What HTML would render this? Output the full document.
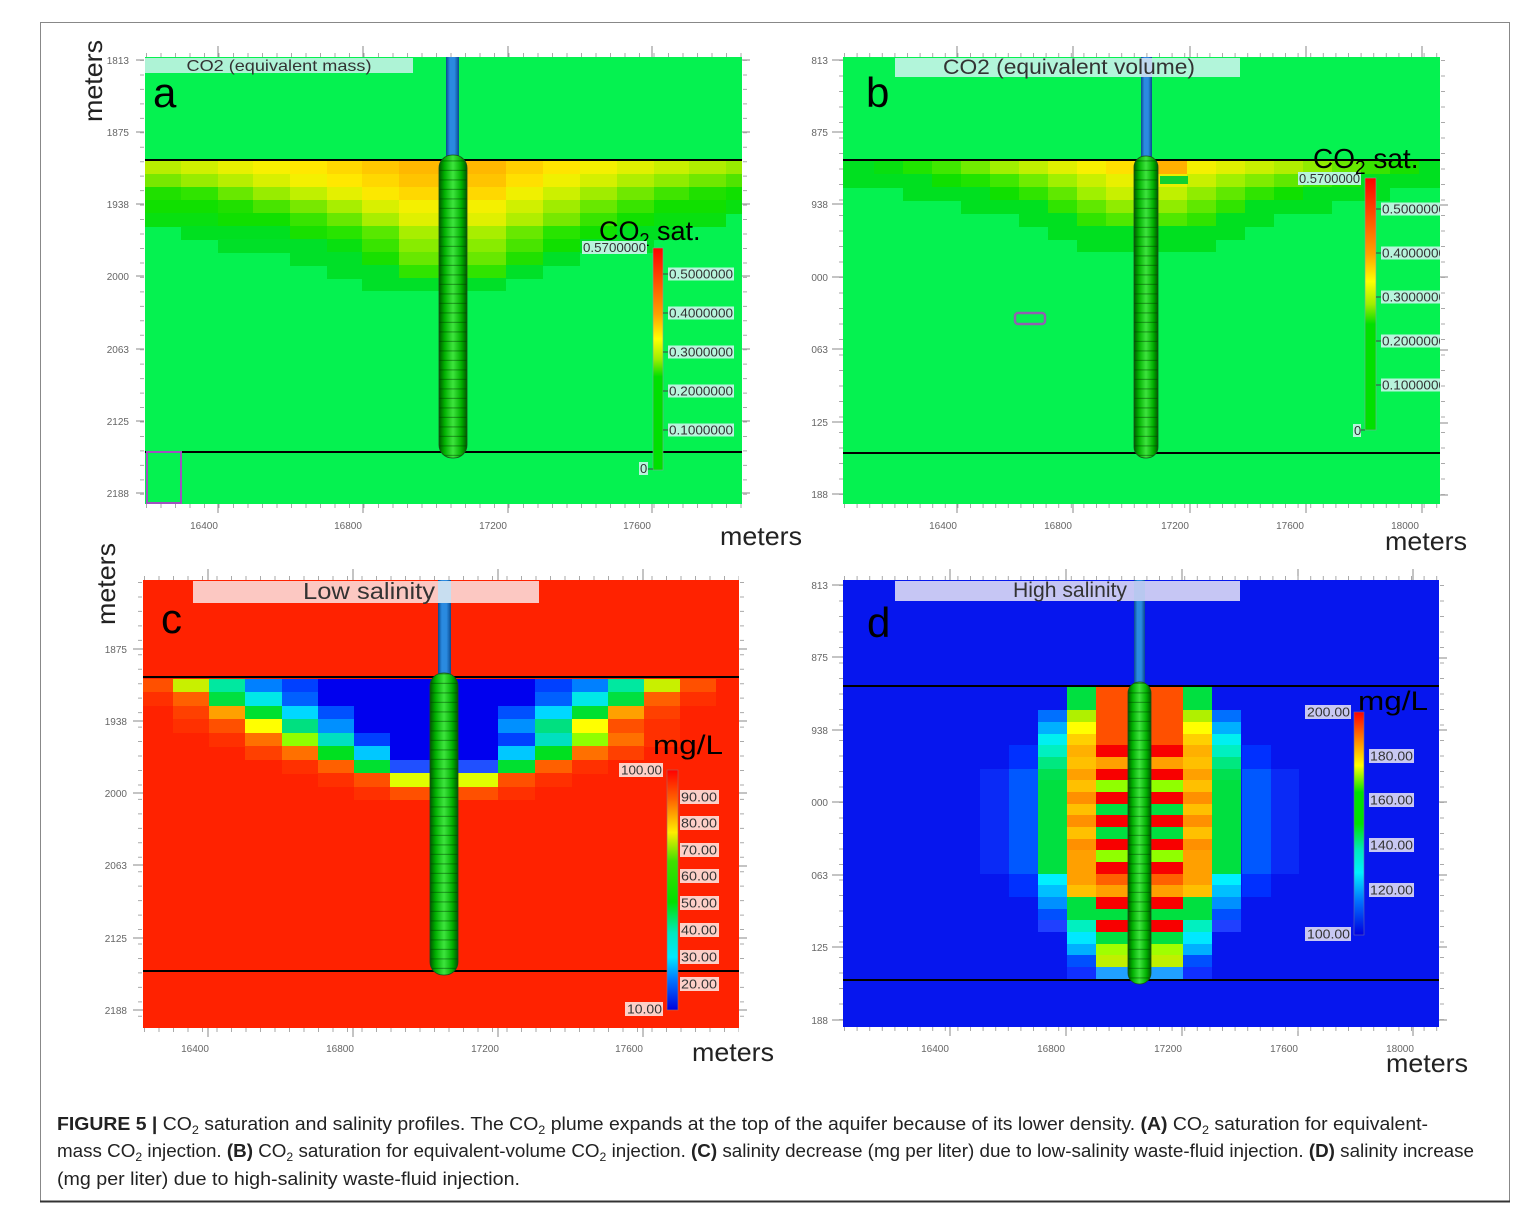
<!DOCTYPE html>
<html><head><meta charset="utf-8"><title>Figure 5</title>
<style>html,body{margin:0;padding:0;background:#fff}svg{display:block}</style></head>
<body>
<svg width="1536" height="1223" viewBox="0 0 1536 1223" font-family="'Liberation Sans', sans-serif">
<defs>
<linearGradient id="wg" x1="0" x2="1" y1="0" y2="0">
<stop offset="0" stop-color="#005800"/><stop offset="0.2" stop-color="#00b000"/><stop offset="0.5" stop-color="#3ee43e"/><stop offset="0.8" stop-color="#00b000"/><stop offset="1" stop-color="#005800"/>
</linearGradient>
<linearGradient id="pg" x1="0" x2="1" y1="0" y2="0">
<stop offset="0" stop-color="#0a4a90"/><stop offset="0.3" stop-color="#2a8ae0"/><stop offset="0.65" stop-color="#2a8ae0"/><stop offset="1" stop-color="#0a4a90"/>
</linearGradient>
<pattern id="sp" width="40" height="9.5" patternUnits="userSpaceOnUse"><rect y="8.3" width="40" height="1.2" fill="#003800" opacity="0.4"/></pattern>
<linearGradient id="cbA" x1="0" y1="0" x2="0" y2="1">
<stop offset="0" stop-color="#ff0000"/><stop offset="0.15" stop-color="#ff5000"/><stop offset="0.3" stop-color="#ffa000"/><stop offset="0.41" stop-color="#ffff00"/><stop offset="0.5" stop-color="#a0ee00"/><stop offset="0.58" stop-color="#00e000"/><stop offset="1" stop-color="#00e000"/>
</linearGradient>
<linearGradient id="cbC" x1="0" y1="0" x2="0" y2="1">
<stop offset="0" stop-color="#ff0000"/><stop offset="0.12" stop-color="#ff6000"/><stop offset="0.26" stop-color="#ffee00"/><stop offset="0.38" stop-color="#40e000"/><stop offset="0.55" stop-color="#00e000"/><stop offset="0.68" stop-color="#00e8c0"/><stop offset="0.78" stop-color="#00e8ff"/><stop offset="0.88" stop-color="#0070ff"/><stop offset="1" stop-color="#0000e0"/>
</linearGradient>
<linearGradient id="cbD" x1="0" y1="0" x2="0" y2="1">
<stop offset="0" stop-color="#ff0000"/><stop offset="0.12" stop-color="#ff8000"/><stop offset="0.24" stop-color="#ffff00"/><stop offset="0.36" stop-color="#00e000"/><stop offset="0.5" stop-color="#00e000"/><stop offset="0.62" stop-color="#00e8c0"/><stop offset="0.72" stop-color="#00f0ff"/><stop offset="0.85" stop-color="#0070ff"/><stop offset="1" stop-color="#0000e0"/>
</linearGradient>
<clipPath id="clipB"><rect x="843" y="57" width="597" height="447"/></clipPath>
<g id="dm">
<rect y="687" width="29" height="23" fill="#00e040"/><rect y="710" width="29" height="12" fill="#b0f000"/><rect y="722" width="29" height="12" fill="#ffff00"/><rect y="734" width="29" height="11" fill="#ffd000"/><rect y="745" width="29" height="12" fill="#ffb000"/><rect y="757" width="29" height="12" fill="#ffc000"/><rect y="769" width="29" height="11" fill="#ffa000"/><rect y="780" width="29" height="12" fill="#ffc000"/><rect y="792" width="29" height="12" fill="#ff9000"/><rect y="804" width="29" height="11" fill="#ffc000"/><rect y="815" width="29" height="12" fill="#ff9000"/><rect y="827" width="29" height="12" fill="#ffc000"/><rect y="839" width="29" height="11" fill="#ff9000"/><rect y="850" width="29" height="35" fill="#ffa000"/><rect y="885" width="29" height="12" fill="#ffc000"/><rect y="897" width="29" height="23" fill="#00e040"/><rect y="920" width="29" height="12" fill="#00f0c0"/><rect y="932" width="29" height="12" fill="#00e8ff"/><rect y="944" width="29" height="11" fill="#00b0ff"/><rect y="955" width="29" height="12" fill="#0050ff"/><rect y="967" width="29" height="12" fill="#1030ff"/>
</g>
<g id="do">
<rect y="710" width="29" height="12" fill="#0070ff"/><rect y="722" width="29" height="12" fill="#00b0ff"/><rect y="734" width="29" height="11" fill="#00f0f0"/><rect y="745" width="29" height="12" fill="#00f0c0"/><rect y="757" width="29" height="12" fill="#00e880"/><rect y="769" width="29" height="11" fill="#00e050"/><rect y="780" width="29" height="94" fill="#00e040"/><rect y="874" width="29" height="11" fill="#00f0ff"/><rect y="885" width="29" height="12" fill="#00c0ff"/><rect y="897" width="29" height="12" fill="#0090ff"/><rect y="909" width="29" height="11" fill="#0050ff"/><rect y="920" width="29" height="12" fill="#2040ff"/>
</g>
<g id="do2">
<rect y="745" width="29" height="24" fill="#0030ff"/><rect y="769" width="29" height="105" fill="#0058ff"/><rect y="874" width="29" height="23" fill="#0030ff"/>
</g>
<g id="do3"><rect y="769" width="29" height="105" fill="#0a2af6"/></g>
</defs>

<rect width="1536" height="1223" fill="#fff"/>
<rect x="40.5" y="22.5" width="1469" height="1179" fill="none" stroke="#888" stroke-width="1"/>
<line x1="40" y1="1201.5" x2="1510" y2="1201.5" stroke="#333" stroke-width="2"/>

<!-- ================= PANEL A ================= -->
<g shape-rendering="crispEdges">
<rect x="145" y="57" width="597" height="447" fill="#05f250"/>
<rect x="145" y="161" width="36" height="14" fill="#b8ee00"/><rect x="181" y="161" width="37" height="14" fill="#d0f000"/><rect x="218" y="161" width="35" height="14" fill="#e8f000"/><rect x="253" y="161" width="37" height="14" fill="#f8f000"/><rect x="290" y="161" width="37" height="14" fill="#ffe800"/><rect x="327" y="161" width="35" height="14" fill="#ffd800"/><rect x="362" y="161" width="37" height="14" fill="#ffc800"/><rect x="399" y="161" width="107" height="14" fill="#ffb800"/><rect x="506" y="161" width="37" height="14" fill="#ffd000"/><rect x="543" y="161" width="37" height="14" fill="#ffe400"/><rect x="580" y="161" width="37" height="14" fill="#f4f000"/><rect x="617" y="161" width="37" height="14" fill="#e0f000"/><rect x="654" y="161" width="35" height="14" fill="#c8f000"/><rect x="689" y="161" width="37" height="14" fill="#b0ee00"/><rect x="726" y="161" width="16" height="14" fill="#98ec00"/>
<rect x="145" y="174" width="36" height="14" fill="#78e800"/><rect x="181" y="174" width="37" height="14" fill="#98ec00"/><rect x="218" y="174" width="35" height="14" fill="#b8ee00"/><rect x="253" y="174" width="37" height="14" fill="#d8f000"/><rect x="290" y="174" width="37" height="14" fill="#f4f000"/><rect x="327" y="174" width="35" height="14" fill="#ffe800"/><rect x="362" y="174" width="37" height="14" fill="#ffd800"/><rect x="399" y="174" width="107" height="14" fill="#ffc400"/><rect x="506" y="174" width="37" height="14" fill="#ffe000"/><rect x="543" y="174" width="37" height="14" fill="#f0f000"/><rect x="580" y="174" width="37" height="14" fill="#d4f000"/><rect x="617" y="174" width="37" height="14" fill="#b0ee00"/><rect x="654" y="174" width="35" height="14" fill="#90ec00"/><rect x="689" y="174" width="37" height="14" fill="#70e800"/><rect x="726" y="174" width="16" height="14" fill="#50e400"/>
<rect x="145" y="187" width="36" height="14" fill="#20e000"/><rect x="181" y="187" width="37" height="14" fill="#30e400"/><rect x="218" y="187" width="35" height="14" fill="#68e800"/><rect x="253" y="187" width="37" height="14" fill="#98ec00"/><rect x="290" y="187" width="37" height="14" fill="#c0f000"/><rect x="327" y="187" width="35" height="14" fill="#e4f000"/><rect x="362" y="187" width="37" height="14" fill="#fce800"/><rect x="399" y="187" width="107" height="14" fill="#ffd800"/><rect x="506" y="187" width="37" height="14" fill="#f0f000"/><rect x="543" y="187" width="37" height="14" fill="#ccf000"/><rect x="580" y="187" width="37" height="14" fill="#a0ec00"/><rect x="617" y="187" width="37" height="14" fill="#70e800"/><rect x="654" y="187" width="35" height="14" fill="#40e400"/><rect x="689" y="187" width="37" height="14" fill="#20e000"/><rect x="726" y="187" width="16" height="14" fill="#10e000"/>
<rect x="145" y="200" width="73" height="14" fill="#10e000"/><rect x="218" y="200" width="35" height="14" fill="#20e000"/><rect x="253" y="200" width="37" height="14" fill="#48e400"/><rect x="290" y="200" width="37" height="14" fill="#78e800"/><rect x="327" y="200" width="35" height="14" fill="#a8ee00"/><rect x="362" y="200" width="37" height="14" fill="#d8f000"/><rect x="399" y="200" width="107" height="14" fill="#f4f000"/><rect x="506" y="200" width="37" height="14" fill="#d0f000"/><rect x="543" y="200" width="37" height="14" fill="#a0ec00"/><rect x="580" y="200" width="37" height="14" fill="#68e800"/><rect x="617" y="200" width="37" height="14" fill="#38e400"/><rect x="654" y="200" width="72" height="14" fill="#10e000"/><rect x="726" y="200" width="16" height="14" fill="#08e010"/>
<rect x="145" y="213" width="73" height="14" fill="#08e010"/><rect x="218" y="213" width="72" height="14" fill="#10e000"/><rect x="290" y="213" width="37" height="14" fill="#38e400"/><rect x="327" y="213" width="35" height="14" fill="#68e800"/><rect x="362" y="213" width="37" height="14" fill="#a8ee00"/><rect x="399" y="213" width="107" height="14" fill="#e0f000"/><rect x="506" y="213" width="37" height="14" fill="#b0ee00"/><rect x="543" y="213" width="37" height="14" fill="#78e800"/><rect x="580" y="213" width="37" height="14" fill="#38e400"/><rect x="617" y="213" width="37" height="14" fill="#10e000"/><rect x="654" y="213" width="72" height="14" fill="#08e010"/>
<rect x="181" y="226" width="109" height="14" fill="#00e020"/><rect x="290" y="226" width="37" height="14" fill="#18e000"/><rect x="327" y="226" width="35" height="14" fill="#28e400"/><rect x="362" y="226" width="37" height="14" fill="#58e800"/><rect x="399" y="226" width="107" height="14" fill="#a8ee00"/><rect x="506" y="226" width="37" height="14" fill="#68e800"/><rect x="543" y="226" width="37" height="14" fill="#28e400"/><rect x="580" y="226" width="37" height="14" fill="#10e000"/><rect x="617" y="226" width="72" height="14" fill="#00e020"/>
<rect x="218" y="239" width="109" height="14" fill="#00e028"/><rect x="327" y="239" width="35" height="14" fill="#08e010"/><rect x="362" y="239" width="37" height="14" fill="#38e400"/><rect x="399" y="239" width="107" height="14" fill="#88ec00"/><rect x="506" y="239" width="37" height="14" fill="#48e400"/><rect x="543" y="239" width="37" height="14" fill="#10e000"/><rect x="580" y="239" width="74" height="14" fill="#00e028"/>
<rect x="290" y="252" width="72" height="14" fill="#00e028"/><rect x="362" y="252" width="37" height="14" fill="#18e000"/><rect x="399" y="252" width="107" height="14" fill="#68e800"/><rect x="506" y="252" width="37" height="14" fill="#20e000"/><rect x="543" y="252" width="37" height="14" fill="#00e028"/>
<rect x="327" y="265" width="72" height="14" fill="#00e028"/><rect x="399" y="265" width="107" height="14" fill="#30e400"/><rect x="506" y="265" width="37" height="14" fill="#00e028"/>
<rect x="362" y="278" width="144" height="13" fill="#00e028"/>
</g>
<rect x="145" y="58" width="268" height="15" fill="#aef3d6"/>
<text x="279" y="71" font-size="16" fill="#333" text-anchor="middle" textLength="185" lengthAdjust="spacingAndGlyphs">CO2 (equivalent mass)</text>
<rect x="446" y="57" width="13" height="105" fill="url(#pg)"/>
<line x1="145" y1="160" x2="742" y2="160" stroke="#000" stroke-width="2"/>
<line x1="145" y1="452" x2="742" y2="452" stroke="#000" stroke-width="2"/>
<rect x="147" y="452" width="34" height="51" fill="none" stroke="#a050c0" stroke-width="2"/>
<rect x="439" y="155" width="28" height="303" rx="13" fill="url(#wg)"/>
<rect x="439" y="155" width="28" height="303" rx="13" fill="url(#sp)" stroke="#1c4c1c" stroke-width="0.8"/>
<text x="153" y="107" font-size="42" fill="#000">a</text>
<text x="599" y="240" font-size="27" fill="#000">CO<tspan font-size="18" dy="6">2</tspan><tspan dy="-6"> sat.</tspan></text>
<rect x="653" y="248" width="10" height="222" fill="url(#cbA)" stroke="#7a9" stroke-width="0.6"/>
<g font-size="13" fill="#333">
<rect x="582" y="241" width="65" height="13" fill="#b8f4dc"/><text x="646" y="252" text-anchor="end" textLength="63" lengthAdjust="spacingAndGlyphs">0.5700000</text>
<rect x="668" y="267.5" width="66" height="13" fill="#b8f4dc"/><text x="669" y="278.5" textLength="64" lengthAdjust="spacingAndGlyphs">0.5000000</text>
<rect x="668" y="306.5" width="66" height="13" fill="#b8f4dc"/><text x="669" y="317.5" textLength="64" lengthAdjust="spacingAndGlyphs">0.4000000</text>
<rect x="668" y="345.5" width="66" height="13" fill="#b8f4dc"/><text x="669" y="356.5" textLength="64" lengthAdjust="spacingAndGlyphs">0.3000000</text>
<rect x="668" y="384.5" width="66" height="13" fill="#b8f4dc"/><text x="669" y="395.5" textLength="64" lengthAdjust="spacingAndGlyphs">0.2000000</text>
<rect x="668" y="423.5" width="66" height="13" fill="#b8f4dc"/><text x="669" y="434.5" textLength="64" lengthAdjust="spacingAndGlyphs">0.1000000</text>
<rect x="639" y="462" width="9" height="13" fill="#b8f4dc"/><text x="640" y="473">0</text>
</g>
<path d="M663 274H668M663 313H668M663 352H668M663 391H668M663 430H668M648 469H653" stroke="#444" stroke-width="1"/>
<g stroke="#888" stroke-width="1" fill="none">
<path d="M136 60H144M136 132H144M136 204H144M136 276H144M136 349H144M136 421H144M136 493H144"/>
<path d="M742 60H750M742 132H750M742 204H750M742 276H750M742 349H750M742 421H750M742 493H750"/>
<path d="M218 46V57M363 46V57M508 46V57M652 46V57"/>
<path d="M218 504V513M363 504V513M508 504V513M652 504V513"/>
</g>
<g stroke="#aaa" stroke-width="4" stroke-dasharray="1 13.46">
<line x1="142" y1="60" x2="142" y2="504"/><line x1="745" y1="60" x2="745" y2="504"/>
<line x1="146" y1="55" x2="742" y2="55" stroke-dasharray="1 13.5"/><line x1="146" y1="506" x2="742" y2="506" stroke-dasharray="1 13.5"/>
</g>
<g font-size="10" fill="#666">
<g text-anchor="end"><text x="129" y="64">1813</text><text x="129" y="136">1875</text><text x="129" y="208">1938</text><text x="129" y="280">2000</text><text x="129" y="353">2063</text><text x="129" y="425">2125</text><text x="129" y="497">2188</text></g>
<g text-anchor="middle"><text x="204" y="529">16400</text><text x="348" y="529">16800</text><text x="493" y="529">17200</text><text x="637" y="529">17600</text></g>
</g>
<text transform="translate(102,81) rotate(-90)" font-size="26" fill="#222" text-anchor="middle" textLength="82" lengthAdjust="spacingAndGlyphs">meters</text>
<text x="761" y="545" font-size="26" fill="#222" text-anchor="middle" textLength="82" lengthAdjust="spacingAndGlyphs">meters</text>

<!-- ================= PANEL B ================= -->
<g shape-rendering="crispEdges">
<rect x="843" y="57" width="597" height="447" fill="#05f250"/>
<rect x="843" y="161" width="31" height="14" fill="#00e020"/><rect x="874" y="161" width="29" height="14" fill="#08e010"/><rect x="903" y="161" width="29" height="14" fill="#20e400"/><rect x="932" y="161" width="29" height="14" fill="#40e800"/><rect x="961" y="161" width="29" height="14" fill="#70ec00"/><rect x="990" y="161" width="29" height="14" fill="#a0f000"/><rect x="1019" y="161" width="29" height="14" fill="#c0f000"/><rect x="1048" y="161" width="29" height="14" fill="#e0f000"/><rect x="1077" y="161" width="29" height="14" fill="#f8f000"/><rect x="1106" y="161" width="41" height="14" fill="#ffe000"/><rect x="1147" y="161" width="40" height="14" fill="#ffb000"/><rect x="1187" y="161" width="29" height="14" fill="#f4f000"/><rect x="1216" y="161" width="29" height="14" fill="#e0f000"/><rect x="1245" y="161" width="29" height="14" fill="#c8f000"/><rect x="1274" y="161" width="29" height="14" fill="#b0ee00"/><rect x="1303" y="161" width="29" height="14" fill="#90ec00"/><rect x="1332" y="161" width="29" height="14" fill="#68e800"/><rect x="1361" y="161" width="29" height="14" fill="#38e400"/><rect x="1390" y="161" width="29" height="14" fill="#18e000"/><rect x="1419" y="161" width="21" height="14" fill="#00e020"/>
<rect x="843" y="174" width="89" height="14" fill="#00e020"/><rect x="932" y="174" width="29" height="14" fill="#10e000"/><rect x="961" y="174" width="29" height="14" fill="#20e400"/><rect x="990" y="174" width="29" height="14" fill="#40e800"/><rect x="1019" y="174" width="29" height="14" fill="#70ec00"/><rect x="1048" y="174" width="29" height="14" fill="#a0f000"/><rect x="1077" y="174" width="29" height="14" fill="#c8f000"/><rect x="1106" y="174" width="81" height="14" fill="#e8f000"/><rect x="1187" y="174" width="29" height="14" fill="#c8f000"/><rect x="1216" y="174" width="29" height="14" fill="#a0f000"/><rect x="1245" y="174" width="29" height="14" fill="#80ec00"/><rect x="1274" y="174" width="29" height="14" fill="#60e800"/><rect x="1303" y="174" width="29" height="14" fill="#40e800"/><rect x="1332" y="174" width="29" height="14" fill="#20e400"/><rect x="1361" y="174" width="79" height="14" fill="#00e020"/>
<rect x="1160" y="176" width="28" height="8" fill="#10d030"/>
<rect x="903" y="187" width="87" height="14" fill="#00e020"/><rect x="990" y="187" width="29" height="14" fill="#10e000"/><rect x="1019" y="187" width="29" height="14" fill="#30e400"/><rect x="1048" y="187" width="29" height="14" fill="#60e800"/><rect x="1077" y="187" width="29" height="14" fill="#a0f000"/><rect x="1106" y="187" width="41" height="14" fill="#c8f000"/><rect x="1147" y="187" width="40" height="14" fill="#c0f000"/><rect x="1187" y="187" width="29" height="14" fill="#90ec00"/><rect x="1216" y="187" width="29" height="14" fill="#60e800"/><rect x="1245" y="187" width="29" height="14" fill="#30e400"/><rect x="1274" y="187" width="29" height="14" fill="#10e000"/><rect x="1303" y="187" width="87" height="14" fill="#00e020"/>
<rect x="961" y="200" width="87" height="14" fill="#00e020"/><rect x="1048" y="200" width="29" height="14" fill="#30e400"/><rect x="1077" y="200" width="29" height="14" fill="#60e800"/><rect x="1106" y="200" width="81" height="14" fill="#90ec00"/><rect x="1187" y="200" width="29" height="14" fill="#60e800"/><rect x="1216" y="200" width="29" height="14" fill="#30e400"/><rect x="1245" y="200" width="87" height="14" fill="#00e020"/>
<rect x="1019" y="213" width="58" height="14" fill="#00e020"/><rect x="1077" y="213" width="29" height="14" fill="#30e400"/><rect x="1106" y="213" width="81" height="14" fill="#50e800"/><rect x="1187" y="213" width="29" height="14" fill="#30e400"/><rect x="1216" y="213" width="58" height="14" fill="#00e020"/>
<rect x="1048" y="226" width="197" height="14" fill="#00e020"/>
<rect x="1077" y="239" width="139" height="13" fill="#00e020"/>
</g>
<rect x="895" y="58" width="345" height="19" fill="#b2f5da"/>
<rect x="1141" y="57" width="11" height="105" fill="url(#pg)"/>
<rect x="1141" y="58" width="11" height="19" fill="#c0d8f0"/>
<text x="1069" y="74" font-size="21" fill="#333" text-anchor="middle" textLength="252" lengthAdjust="spacingAndGlyphs">CO2 (equivalent volume)</text>
<line x1="843" y1="160" x2="1440" y2="160" stroke="#000" stroke-width="2"/>
<line x1="843" y1="453" x2="1440" y2="453" stroke="#000" stroke-width="2"/>
<rect x="1015" y="313" width="30" height="11" rx="3" fill="none" stroke="#9060b0" stroke-width="2.5"/>
<rect x="1134" y="156" width="24" height="302" rx="11" fill="url(#wg)"/>
<rect x="1134" y="156" width="24" height="302" rx="11" fill="url(#sp)" stroke="#1c4c1c" stroke-width="0.8"/>
<text x="866" y="107" font-size="42" fill="#000">b</text>
<rect x="1365" y="178" width="11" height="252" fill="url(#cbA)" stroke="#7a9" stroke-width="0.6"/>
<g font-size="13" fill="#333">
<rect x="1298" y="172" width="63" height="13" fill="#b8f4dc"/><text x="1360" y="183" text-anchor="end" textLength="61" lengthAdjust="spacingAndGlyphs">0.5700000</text>
<g clip-path="url(#clipB)">
<rect x="1381" y="202.5" width="70" height="13" fill="#b8f4dc"/><text x="1382" y="213.5" textLength="64" lengthAdjust="spacingAndGlyphs">0.5000000</text>
<rect x="1381" y="246.5" width="70" height="13" fill="#b8f4dc"/><text x="1382" y="257.5" textLength="64" lengthAdjust="spacingAndGlyphs">0.4000000</text>
<rect x="1381" y="290.5" width="70" height="13" fill="#b8f4dc"/><text x="1382" y="301.5" textLength="64" lengthAdjust="spacingAndGlyphs">0.3000000</text>
<rect x="1381" y="334.5" width="70" height="13" fill="#b8f4dc"/><text x="1382" y="345.5" textLength="64" lengthAdjust="spacingAndGlyphs">0.2000000</text>
<rect x="1381" y="378.5" width="70" height="13" fill="#b8f4dc"/><text x="1382" y="389.5" textLength="64" lengthAdjust="spacingAndGlyphs">0.1000000</text>
</g>
<rect x="1353" y="424" width="8" height="13" fill="#b8f4dc"/><text x="1354" y="435">0</text>
</g>
<path d="M1376 209H1381M1376 253H1381M1376 297H1381M1376 341H1381M1376 385H1381M1361 430H1365" stroke="#444" stroke-width="1"/>
<text x="1313" y="168" font-size="28" fill="#000">CO<tspan font-size="19" dy="6">2</tspan><tspan dy="-6"> sat.</tspan></text>
<g stroke="#888" stroke-width="1" fill="none">
<path d="M832 60H843M832 132H843M832 204H843M832 277H843M832 349H843M832 422H843M832 494H843"/>
<path d="M1440 205H1448M1440 277H1448M1440 350H1448M1440 423H1448M1440 495H1448"/>
<path d="M957 46V57M1073 46V57M1190 46V57M1306 46V57M1422 46V57"/>
<path d="M957 504V513M1073 504V513M1190 504V513M1306 504V513M1422 504V513"/>
</g>
<g stroke="#aaa" stroke-width="4" stroke-dasharray="1 14.5">
<line x1="841" y1="60" x2="841" y2="504"/><line x1="1443" y1="60" x2="1443" y2="504"/>
<line x1="844" y1="55" x2="1440" y2="55" stroke-dasharray="1 11.6"/><line x1="844" y1="506" x2="1440" y2="506" stroke-dasharray="1 11.6"/>
</g>
<g font-size="10" fill="#666">
<g text-anchor="end"><text x="828" y="64">813</text><text x="828" y="136">875</text><text x="828" y="208">938</text><text x="828" y="281">000</text><text x="828" y="353">063</text><text x="828" y="426">125</text><text x="828" y="498">188</text></g>
<g text-anchor="middle"><text x="943" y="529">16400</text><text x="1058" y="529">16800</text><text x="1175" y="529">17200</text><text x="1290" y="529">17600</text><text x="1405" y="529">18000</text></g>
</g>
<text x="1426" y="550" font-size="26" fill="#222" text-anchor="middle" textLength="82" lengthAdjust="spacingAndGlyphs">meters</text>

<!-- ================= PANEL C ================= -->
<g shape-rendering="crispEdges">
<rect x="143" y="580" width="596" height="448" fill="#ff2200"/>
<rect x="143" y="679" width="30" height="14" fill="#ff5000"/><rect x="173" y="679" width="36" height="14" fill="#c8f000"/><rect x="209" y="679" width="36" height="14" fill="#00e8a0"/><rect x="245" y="679" width="37" height="14" fill="#0080ff"/><rect x="282" y="679" width="36" height="14" fill="#0040ff"/><rect x="318" y="679" width="217" height="14" fill="#0000ee"/><rect x="535" y="679" width="37" height="14" fill="#0040ff"/><rect x="572" y="679" width="36" height="14" fill="#0080ff"/><rect x="608" y="679" width="36" height="14" fill="#00e8a0"/><rect x="644" y="679" width="36" height="14" fill="#c8f000"/><rect x="680" y="679" width="36" height="14" fill="#ff5000"/>
<rect x="143" y="692" width="30" height="14" fill="#ff3000"/><rect x="173" y="692" width="36" height="14" fill="#ff6000"/><rect x="209" y="692" width="36" height="14" fill="#00e040"/><rect x="245" y="692" width="37" height="14" fill="#00e8e8"/><rect x="282" y="692" width="36" height="14" fill="#0060ff"/><rect x="318" y="692" width="217" height="14" fill="#0000ee"/><rect x="535" y="692" width="37" height="14" fill="#0060ff"/><rect x="572" y="692" width="36" height="14" fill="#00e8e8"/><rect x="608" y="692" width="36" height="14" fill="#00e040"/><rect x="644" y="692" width="36" height="14" fill="#ff6000"/><rect x="680" y="692" width="36" height="14" fill="#ff3000"/>
<rect x="173" y="706" width="36" height="14" fill="#ff4000"/><rect x="209" y="706" width="36" height="14" fill="#ffa000"/><rect x="245" y="706" width="37" height="14" fill="#00e030"/><rect x="282" y="706" width="36" height="14" fill="#00d8ff"/><rect x="318" y="706" width="36" height="14" fill="#0050ff"/><rect x="354" y="706" width="144" height="14" fill="#0000ee"/><rect x="498" y="706" width="37" height="14" fill="#0050ff"/><rect x="535" y="706" width="37" height="14" fill="#00d8ff"/><rect x="572" y="706" width="36" height="14" fill="#00e030"/><rect x="608" y="706" width="36" height="14" fill="#ffa000"/><rect x="644" y="706" width="36" height="14" fill="#ff4000"/>
<rect x="173" y="719" width="36" height="14" fill="#ff3000"/><rect x="209" y="719" width="36" height="14" fill="#ff5000"/><rect x="245" y="719" width="37" height="14" fill="#ffff00"/><rect x="282" y="719" width="36" height="14" fill="#00e080"/><rect x="318" y="719" width="36" height="14" fill="#0090ff"/><rect x="354" y="719" width="144" height="14" fill="#0000ee"/><rect x="498" y="719" width="37" height="14" fill="#0090ff"/><rect x="535" y="719" width="37" height="14" fill="#00e080"/><rect x="572" y="719" width="36" height="14" fill="#ffff00"/><rect x="608" y="719" width="36" height="14" fill="#ff5000"/><rect x="644" y="719" width="36" height="14" fill="#ff3000"/>
<rect x="209" y="733" width="36" height="14" fill="#ff3000"/><rect x="245" y="733" width="37" height="14" fill="#ff7000"/><rect x="282" y="733" width="36" height="14" fill="#90ff00"/><rect x="318" y="733" width="36" height="14" fill="#00e0c0"/><rect x="354" y="733" width="36" height="14" fill="#0040ff"/><rect x="390" y="733" width="108" height="14" fill="#0000ee"/><rect x="498" y="733" width="37" height="14" fill="#0040ff"/><rect x="535" y="733" width="37" height="14" fill="#00e0c0"/><rect x="572" y="733" width="36" height="14" fill="#90ff00"/><rect x="608" y="733" width="36" height="14" fill="#ff7000"/><rect x="644" y="733" width="36" height="14" fill="#ff3000"/>
<rect x="245" y="746" width="37" height="14" fill="#ff4000"/><rect x="282" y="746" width="36" height="14" fill="#ff7000"/><rect x="318" y="746" width="36" height="14" fill="#00e020"/><rect x="354" y="746" width="36" height="14" fill="#00c8ff"/><rect x="390" y="746" width="108" height="14" fill="#0000ee"/><rect x="498" y="746" width="37" height="14" fill="#00c8ff"/><rect x="535" y="746" width="37" height="14" fill="#00e020"/><rect x="572" y="746" width="36" height="14" fill="#ff7000"/><rect x="608" y="746" width="36" height="14" fill="#ff4000"/>
<rect x="282" y="760" width="36" height="14" fill="#ff3000"/><rect x="318" y="760" width="36" height="14" fill="#ff6000"/><rect x="354" y="760" width="36" height="14" fill="#00e030"/><rect x="390" y="760" width="108" height="14" fill="#2050ff"/><rect x="498" y="760" width="37" height="14" fill="#00e030"/><rect x="535" y="760" width="37" height="14" fill="#ff6000"/><rect x="572" y="760" width="36" height="14" fill="#ff3000"/>
<rect x="318" y="773" width="36" height="14" fill="#ff3000"/><rect x="354" y="773" width="36" height="14" fill="#ff5000"/><rect x="390" y="773" width="108" height="14" fill="#e0ff00"/><rect x="498" y="773" width="37" height="14" fill="#ff5000"/><rect x="535" y="773" width="37" height="14" fill="#ff3000"/>
<rect x="354" y="787" width="36" height="13" fill="#ff3000"/><rect x="390" y="787" width="108" height="13" fill="#ff5000"/><rect x="498" y="787" width="37" height="13" fill="#ff3000"/>
</g>
<rect x="193" y="581" width="346" height="22" fill="#fcc8c2"/>
<rect x="438" y="580" width="13" height="99" fill="url(#pg)"/>
<rect x="438" y="581" width="13" height="22" fill="#c8def0"/>
<text x="369" y="599" font-size="23" fill="#333" text-anchor="middle" textLength="132" lengthAdjust="spacingAndGlyphs">Low salinity</text>
<line x1="143" y1="677" x2="739" y2="677" stroke="#000" stroke-width="2"/>
<line x1="143" y1="971" x2="739" y2="971" stroke="#000" stroke-width="2"/>
<rect x="430" y="673" width="28" height="302" rx="13" fill="url(#wg)"/>
<rect x="430" y="673" width="28" height="302" rx="13" fill="url(#sp)" stroke="#1c4c1c" stroke-width="0.8"/>
<text x="161" y="633" font-size="42" fill="#000">c</text>
<text x="653" y="754" font-size="27" fill="#000" textLength="70" lengthAdjust="spacingAndGlyphs">mg/L</text>
<rect x="667" y="770" width="11" height="240" fill="url(#cbC)" stroke="#a66" stroke-width="0.6"/>
<g font-size="13" fill="#333">
<rect x="619" y="763" width="44" height="14" fill="#fdd0c8"/><text x="662" y="774.5" text-anchor="end" textLength="41" lengthAdjust="spacingAndGlyphs">100.00</text>
<rect x="680" y="790" width="39" height="14" fill="#fdd0c8"/><text x="681" y="801.5" textLength="36" lengthAdjust="spacingAndGlyphs">90.00</text>
<rect x="680" y="816" width="39" height="14" fill="#fdd0c8"/><text x="681" y="827.5" textLength="36" lengthAdjust="spacingAndGlyphs">80.00</text>
<rect x="680" y="843" width="39" height="14" fill="#fdd0c8"/><text x="681" y="854.5" textLength="36" lengthAdjust="spacingAndGlyphs">70.00</text>
<rect x="680" y="869" width="39" height="14" fill="#fdd0c8"/><text x="681" y="880.5" textLength="36" lengthAdjust="spacingAndGlyphs">60.00</text>
<rect x="680" y="896" width="39" height="14" fill="#fdd0c8"/><text x="681" y="907.5" textLength="36" lengthAdjust="spacingAndGlyphs">50.00</text>
<rect x="680" y="923" width="39" height="14" fill="#fdd0c8"/><text x="681" y="934.5" textLength="36" lengthAdjust="spacingAndGlyphs">40.00</text>
<rect x="680" y="950" width="39" height="14" fill="#fdd0c8"/><text x="681" y="961.5" textLength="36" lengthAdjust="spacingAndGlyphs">30.00</text>
<rect x="680" y="977" width="39" height="14" fill="#fdd0c8"/><text x="681" y="988.5" textLength="36" lengthAdjust="spacingAndGlyphs">20.00</text>
<rect x="625" y="1002" width="38" height="14" fill="#fdd0c8"/><text x="662" y="1013.5" text-anchor="end" textLength="35" lengthAdjust="spacingAndGlyphs">10.00</text>
</g>
<g stroke="#888" stroke-width="1" fill="none">
<path d="M133 649H143M133 721H143M133 793H143M133 865H143M133 938H143M133 1010H143"/>
<path d="M739 649H747M739 721H747M739 793H747M739 866H747M739 938H747M739 1010H747"/>
<path d="M208 569V580M353 569V580M498 569V580M643 569V580"/>
<path d="M208 1028V1037M353 1028V1037M498 1028V1037M643 1028V1037"/>
</g>
<g stroke="#aaa" stroke-width="4" stroke-dasharray="1 13.46">
<line x1="140" y1="582" x2="140" y2="1028"/><line x1="742" y1="582" x2="742" y2="1028"/>
<line x1="144" y1="578" x2="739" y2="578" stroke-dasharray="1 13.5"/><line x1="144" y1="1030" x2="739" y2="1030" stroke-dasharray="1 13.5"/>
</g>
<g font-size="10" fill="#666">
<g text-anchor="end"><text x="127" y="653">1875</text><text x="127" y="725">1938</text><text x="127" y="797">2000</text><text x="127" y="869">2063</text><text x="127" y="942">2125</text><text x="127" y="1014">2188</text></g>
<g text-anchor="middle"><text x="195" y="1052">16400</text><text x="340" y="1052">16800</text><text x="485" y="1052">17200</text><text x="629" y="1052">17600</text></g>
</g>
<text transform="translate(115,584) rotate(-90)" font-size="26" fill="#222" text-anchor="middle" textLength="82" lengthAdjust="spacingAndGlyphs">meters</text>
<text x="733" y="1061" font-size="26" fill="#222" text-anchor="middle" textLength="82" lengthAdjust="spacingAndGlyphs">meters</text>

<!-- ================= PANEL D ================= -->
<g shape-rendering="crispEdges">
<rect x="843" y="580" width="596" height="447" fill="#0616ee"/>
<use href="#do3" x="980"/><use href="#do3" x="1270"/>
<use href="#do2" x="1009"/><use href="#do2" x="1242"/>
<use href="#do" x="1038"/><use href="#do" x="1212"/>
<use href="#dm" x="1067"/><use href="#dm" x="1183"/>
<rect x="1096" y="687" width="87" height="58" fill="#ff5000"/>
<rect x="1096" y="745" width="87" height="12" fill="#f80000"/>
<rect x="1096" y="757" width="87" height="12" fill="#ffa000"/>
<rect x="1096" y="769" width="87" height="11" fill="#f80000"/>
<rect x="1096" y="780" width="87" height="12" fill="#90ff00"/>
<rect x="1096" y="792" width="87" height="12" fill="#f80000"/>
<rect x="1096" y="804" width="87" height="11" fill="#00e040"/>
<rect x="1096" y="815" width="87" height="12" fill="#f80000"/>
<rect x="1096" y="827" width="87" height="12" fill="#00e040"/>
<rect x="1096" y="839" width="87" height="11" fill="#f80000"/>
<rect x="1096" y="850" width="87" height="12" fill="#90ff00"/>
<rect x="1096" y="862" width="87" height="12" fill="#f80000"/>
<rect x="1096" y="874" width="87" height="11" fill="#ff6000"/>
<rect x="1096" y="885" width="87" height="12" fill="#ffa000"/>
<rect x="1096" y="897" width="87" height="12" fill="#f80000"/>
<rect x="1096" y="909" width="87" height="11" fill="#00e040"/>
<rect x="1096" y="920" width="87" height="12" fill="#f80000"/>
<rect x="1096" y="932" width="87" height="12" fill="#00e040"/>
<rect x="1096" y="944" width="87" height="11" fill="#a0ff00"/>
<rect x="1096" y="955" width="87" height="12" fill="#c0f000"/>
<rect x="1096" y="967" width="87" height="12" fill="#20a0ff"/>
</g>
<rect x="895" y="581" width="345" height="20" fill="#c6c6f4"/>
<rect x="1134" y="580" width="11" height="108" fill="url(#pg)"/>
<rect x="1134" y="581" width="11" height="20" fill="#b8c8f0"/>
<text x="1070" y="597" font-size="21" fill="#333" text-anchor="middle" textLength="114" lengthAdjust="spacingAndGlyphs">High salinity</text>
<line x1="843" y1="686" x2="1439" y2="686" stroke="#000" stroke-width="2"/>
<line x1="843" y1="980" x2="1439" y2="980" stroke="#000" stroke-width="2"/>
<rect x="1128" y="682" width="23" height="302" rx="11" fill="url(#wg)"/>
<rect x="1128" y="682" width="23" height="302" rx="11" fill="url(#sp)" stroke="#1c4c1c" stroke-width="0.8"/>
<text x="867" y="637" font-size="42" fill="#000">d</text>
<text x="1358" y="710" font-size="27" fill="#000" textLength="70" lengthAdjust="spacingAndGlyphs">mg/L</text>
<rect x="1354" y="712" width="10" height="223" fill="url(#cbD)" stroke="#66a" stroke-width="0.6"/>
<g font-size="13" fill="#333">
<rect x="1305" y="705" width="46" height="14" fill="#c8c8f2"/><text x="1350" y="716.5" text-anchor="end" textLength="43" lengthAdjust="spacingAndGlyphs">200.00</text>
<rect x="1369" y="749" width="45" height="14" fill="#c8c8f2"/><text x="1370" y="760.5" textLength="43" lengthAdjust="spacingAndGlyphs">180.00</text>
<rect x="1369" y="793" width="45" height="14" fill="#c8c8f2"/><text x="1370" y="804.5" textLength="43" lengthAdjust="spacingAndGlyphs">160.00</text>
<rect x="1369" y="838" width="45" height="14" fill="#c8c8f2"/><text x="1370" y="849.5" textLength="43" lengthAdjust="spacingAndGlyphs">140.00</text>
<rect x="1369" y="883" width="45" height="14" fill="#c8c8f2"/><text x="1370" y="894.5" textLength="43" lengthAdjust="spacingAndGlyphs">120.00</text>
<rect x="1305" y="927" width="46" height="14" fill="#c8c8f2"/><text x="1350" y="938.5" text-anchor="end" textLength="43" lengthAdjust="spacingAndGlyphs">100.00</text>
</g>
<g stroke="#888" stroke-width="1" fill="none">
<path d="M832 585H843M832 657H843M832 730H843M832 802H843M832 875H843M832 947H843M832 1020H843"/>
<path d="M1439 658H1447M1439 730H1447M1439 802H1447M1439 875H1447M1439 947H1447M1439 1020H1447"/>
<path d="M950 569V580M1066 569V580M1182 569V580M1298 569V580M1413 569V580"/>
<path d="M950 1027V1036M1066 1027V1036M1182 1027V1036M1298 1027V1036M1413 1027V1036"/>
</g>
<g stroke="#aaa" stroke-width="4" stroke-dasharray="1 14.5">
<line x1="841" y1="585" x2="841" y2="1027"/><line x1="1442" y1="585" x2="1442" y2="1027"/>
<line x1="844" y1="578" x2="1439" y2="578" stroke-dasharray="1 11.6"/><line x1="844" y1="1029" x2="1439" y2="1029" stroke-dasharray="1 11.6"/>
</g>
<g font-size="10" fill="#666">
<g text-anchor="end"><text x="828" y="589">813</text><text x="828" y="661">875</text><text x="828" y="734">938</text><text x="828" y="806">000</text><text x="828" y="879">063</text><text x="828" y="951">125</text><text x="828" y="1024">188</text></g>
<g text-anchor="middle"><text x="935" y="1052">16400</text><text x="1051" y="1052">16800</text><text x="1168" y="1052">17200</text><text x="1284" y="1052">17600</text><text x="1400" y="1052">18000</text></g>
</g>
<text x="1427" y="1072" font-size="26" fill="#222" text-anchor="middle" textLength="82" lengthAdjust="spacingAndGlyphs">meters</text>

<!-- ================= CAPTION ================= -->
<g font-size="18.5" fill="#222">
<text x="57" y="1130" textLength="1371" lengthAdjust="spacingAndGlyphs"><tspan font-weight="bold">FIGURE 5 |</tspan> CO<tspan font-size="12" dy="4">2</tspan><tspan dy="-4"> saturation and salinity profiles. The CO</tspan><tspan font-size="12" dy="4">2</tspan><tspan dy="-4"> plume expands at the top of the aquifer because of its lower density. </tspan><tspan font-weight="bold">(A)</tspan> CO<tspan font-size="12" dy="4">2</tspan><tspan dy="-4"> saturation for equivalent-</tspan></text>
<text x="57" y="1157" textLength="1417" lengthAdjust="spacingAndGlyphs">mass CO<tspan font-size="12" dy="4">2</tspan><tspan dy="-4"> injection. </tspan><tspan font-weight="bold">(B)</tspan> CO<tspan font-size="12" dy="4">2</tspan><tspan dy="-4"> saturation for equivalent-volume CO</tspan><tspan font-size="12" dy="4">2</tspan><tspan dy="-4"> injection. </tspan><tspan font-weight="bold">(C)</tspan> salinity decrease (mg per liter) due to low-salinity waste-fluid injection. <tspan font-weight="bold">(D)</tspan> salinity increase</text>
<text x="57" y="1185" textLength="463" lengthAdjust="spacingAndGlyphs">(mg per liter) due to high-salinity waste-fluid injection.</text>
</g>
</svg>
</body></html>
